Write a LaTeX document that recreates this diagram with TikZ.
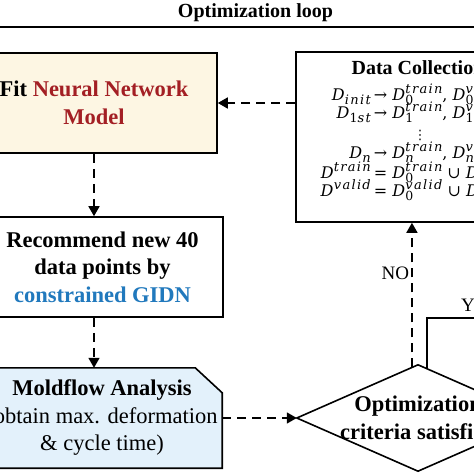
\documentclass[tikz,border=0pt]{standalone}
\usepackage{fontspec}
\setmainfont{Liberation Serif}
\newfontfamily\dvs{DejaVu Serif}
\newfontfamily\dvsl{DejaVu Serif}[LetterSpace=10]
\newfontfamily\dvsans{DejaVu Sans}
\usetikzlibrary{arrows.meta,backgrounds,calc}
\definecolor{cream}{HTML}{FDF6E3}
\definecolor{lblue}{HTML}{E3F1FB}
\definecolor{nnred}{HTML}{A31F24}
\definecolor{gblue}{HTML}{2179BD}
\newcommand{\mI}{\fontsize{16}{19}\selectfont\dvs\itshape}
\newcommand{\mU}{\fontsize{16}{19}\selectfont\dvs\upshape}
\newcommand{\sI}{\fontsize{13}{15}\selectfont\dvsl\itshape}
\newcommand{\sU}{\fontsize{12.5}{15}\selectfont\dvs\upshape}
% D with superscript #1 (italic) and subscript #2 (given with its font)
\newcommand{\Dss}[2]{{\mI D}\kern0.3pt\makebox[0pt][l]{\raisebox{-4.5pt}{#2}}\raisebox{6.5pt}{\sI #1}}
\newcommand{\Dsb}[1]{{\mI D}\kern0.3pt\raisebox{-4.5pt}{#1}}
\newcommand{\Dsp}[1]{{\mI D}\kern0.3pt\raisebox{6.5pt}{\sI #1}}
\begin{document}
\begin{tikzpicture}[x=1pt,y=-1pt,
  box/.style={draw=black, line width=1.6pt, rectangle, inner sep=0pt, align=center},
  plain/.style={rectangle, inner sep=0pt, align=center},
  bigb/.style={font=\fontsize{22.5}{27.5}\selectfont\bfseries},
  bigr/.style={font=\fontsize{22.5}{27.5}\selectfont},
  mth/.style={inner sep=0pt, font=\mU},
  edge/.style={line width=1.6pt},
  arr/.style={-{Triangle[length=10pt,width=11pt]}, line width=1.6pt},
  dasharr/.style={arr, dash pattern=on 9pt off 6pt}]
\useasboundingbox (0,0) rectangle (474,474);
\clip (0,0) rectangle (474,474);

\node[plain, font=\fontsize{20}{24}\selectfont\bfseries] (title) at (255.5,13) {Optimization loop};
\draw[line width=1.5pt] (-5,27) -- (480,27);

\node[box, fill=cream, minimum width=246pt, minimum height=100pt, bigb] (fit) at (94,103)
  {Fit \textcolor{nnred}{Neural Network}\\\textcolor{nnred}{Model}};
\node[box, fill=white, minimum width=241pt, minimum height=100pt, bigb] (rec) at (102.5,267)
  {Recommend new 40\\data points by\\\textcolor{gblue}{constrained GIDN}};
\node[plain, minimum width=240pt, minimum height=100pt, bigr] (mold) at (102,418)
  {\textbf{Moldflow Analysis}\\(obtain max. deformation\\\& cycle time)};
\node[box, fill=white, minimum width=244pt, minimum height=170pt] (data) at (418,137) {};
\node[plain, minimum width=242pt, minimum height=106pt, bigb] (dia) at (418,418)
  {Optimization\\criteria satisfied};

\begin{scope}[on background layer]
\draw[edge, fill=lblue] (mold.south west) -- (mold.north west) -- ($(mold.north east)+(-27,0)$)
  -- ($(mold.north east)+(0,25)$) -- (mold.south east) -- cycle;
\draw[edge, fill=white] (dia.north) -- (dia.east) -- (dia.south) -- (dia.west) -- cycle;
\end{scope}

% data collection contents
\node[plain, font=\fontsize{20}{24}\selectfont\bfseries] (dtitle) at ($(data.north)+(0,16)$) {Data Collection};
\node[mth, anchor=base east] (l1a) at (371,100) {\Dsb{\sI init}};
\node[mth, anchor=base west] (l1b) at (371,100) {\,→ \Dss{train}{\sU 0}, \Dss{valid}{\sU 0}};
\node[mth, anchor=base east] (l2a) at (371,118) {\Dsb{\sU 1\sI st}};
\node[mth, anchor=base west] (l2b) at (371,118) {\,→ \Dss{train}{\sU 1}, \Dss{valid}{\sU 1}};
\node[mth, font=\fontsize{13}{13}\selectfont\dvsans] (l3) at (420,135) {⋮};
\node[mth, anchor=base east] (l4a) at (371,158) {\Dsb{\sI n}};
\node[mth, anchor=base west] (l4b) at (371,158) {\,→ \Dss{train}{\sI n}, \Dss{valid}{\sI n}};
\node[mth, anchor=base east] (l5a) at (371,178) {\Dsp{train}};
\node[mth, anchor=base west] (l5b) at (371,178) {\,= \Dss{train}{\sU 0} ∪ \Dss{train}{\sU 1} ∪ {\dvsans ⋯} ∪ \Dss{train}{\sI n}};
\node[mth, anchor=base east] (l6a) at (371,196) {\Dsp{valid}};
\node[mth, anchor=base west] (l6b) at (371,196) {\,= \Dss{valid}{\sU 0} ∪ \Dss{valid}{\sU 1} ∪ {\dvsans ⋯} ∪ \Dss{valid}{\sI n}};

% connectors
\draw[dasharr] (data.west |- fit.east) -- (fit.east);
\draw[dasharr] (fit.south) -- (fit.south |- rec.north);
\draw[dasharr] (fit.south |- rec.south) -- (fit.south |- mold.north);
\draw[dasharr] (mold.east) -- (dia.west);
\coordinate (nofoot) at ($(dia.north)!0.05!(dia.west)$);
\draw[dasharr] (nofoot) -- node[pos=0.65, left, inner sep=2pt, font=\fontsize{19}{22}\selectfont] (nolab) {NO} (nofoot |- data.south);
\coordinate (yesfoot) at ($(dia.north)!0.075!(dia.east)$);
\coordinate (yesout) at (480,318);
\draw[edge] (yesfoot) -- (yesfoot |- yesout) -- (yesout);
\node[plain, anchor=west, font=\fontsize{19}{22}\selectfont] (yeslab) at (461,305) {YES};
\end{tikzpicture}
\end{document}
